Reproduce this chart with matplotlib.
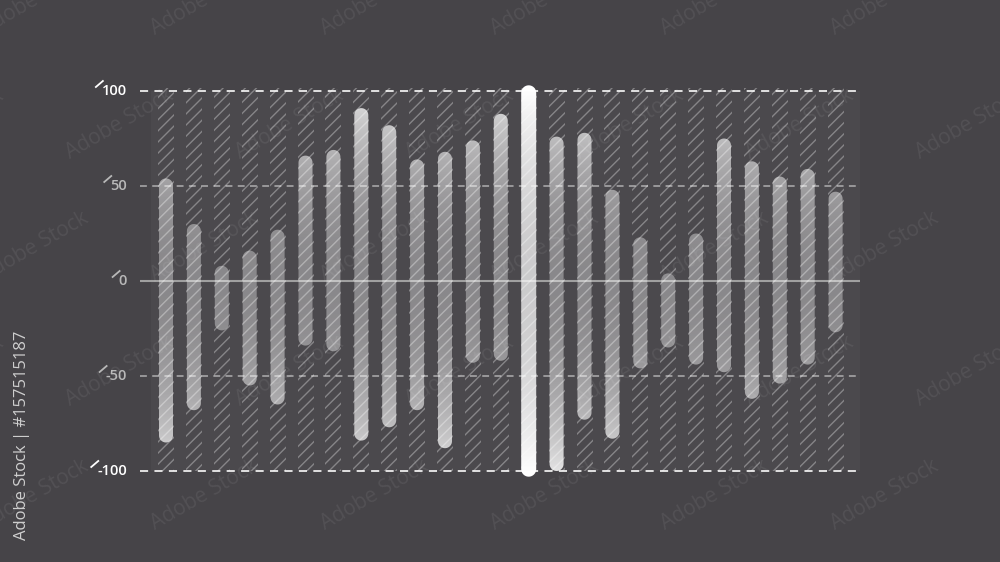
import numpy as np
import matplotlib.pyplot as plt
from matplotlib.path import Path
from matplotlib.patches import PathPatch, Rectangle
from matplotlib.transforms import ScaledTranslation

# bar extents (value at top end, value at bottom end)
tops = [54, 30, 8, 16, 27, 66, 69, 91, 82, 64, 68, 74, 88, 103, 76, 78, 48, 23, 4, 25, 75, 63, 55, 59, 47]
bottoms = [-85, -68, -26, -55, -65, -34, -37, -84, -77, -68, -88, -43, -42, -103, -100, -73, -83, -46, -35, -44, -48, -62, -54, -44, -27]
highlight = 13  # the bright bar

yticks = [100, 50, 0, -50, -100]
ylabels = ['100', '50', '0', '-50', '-100']

BG = '#464448'
AREA = '#4b494d'

fig = plt.figure(figsize=(10, 5.62), dpi=100, facecolor=BG)
n = len(tops)
ax = fig.add_axes([0.140, 1 - 478.6 / 562, 0.720, (478.6 - 83.4) / 562])
ax.set_xlim(-0.932, (860 - 166) / 27.9)
ax.set_ylim(-104, 104)
ax.set_facecolor(BG)
for s in ax.spines.values():
    s.set_visible(False)
ax.set_xticks([])
ax.set_yticks([])

# slightly lighter plot area
ax.add_patch(Rectangle((-0.55, -100), (860 - 166) / 27.9 + 0.55, 200,
                       facecolor=AREA, edgecolor='none', zorder=0))

# grid lines
for v in [100, -100]:
    ax.axhline(v, color='white', lw=1.3, ls=(0, (4.5, 3.5)), alpha=0.9, zorder=1)
for v in [50, -50]:
    ax.axhline(v, color='#d0d0d0', lw=1.1, ls=(0, (4.5, 3.5)), alpha=0.75, zorder=1)
ax.axhline(0, color='#a0a0a0', lw=1.5, zorder=1)

xs = np.arange(n)

# pixel scale of data units
p0 = ax.transData.transform((0, 0))
p1 = ax.transData.transform((1, 1))
sx, sy = p1 - p0


def bar_path(x, lo, hi, rpx):
    rx = rpx / sx
    ry = rpx / sy
    t1 = np.linspace(0, np.pi, 20)
    t2 = np.linspace(np.pi, 2 * np.pi, 20)
    top = np.column_stack([x + rx * np.cos(t1), hi - ry + ry * np.sin(t1)])
    bot = np.column_stack([x + rx * np.cos(t2), lo + ry + ry * np.sin(t2)])
    v = np.vstack([top, bot, top[:1]])
    c = [Path.MOVETO] + [Path.LINETO] * (len(v) - 2) + [Path.CLOSEPOLY]
    return v, c


def gradient_image(alpha_fn, zorder):
    yy = np.linspace(-105, 105, 400)
    img = np.ones((len(yy), 1, 4))
    img[:, 0, 3] = alpha_fn(yy)
    return ax.imshow(img, extent=(-1, n + 1, -105, 105), origin='lower',
                     aspect='auto', interpolation='bilinear', zorder=zorder)


verts, codes = [], []
for i in range(n):
    if i == highlight:
        continue
    v, c = bar_path(xs[i], bottoms[i], tops[i], 7)
    verts.append(v)
    codes += c
clip = PathPatch(Path(np.vstack(verts), codes), transform=ax.transData,
                 facecolor='none', edgecolor='none')
ax.add_patch(clip)
im = gradient_image(lambda y: 0.35 + 0.5 * (np.abs(y) / 100) ** 2, 2)
im.set_clip_path(clip)

v, c = bar_path(xs[highlight], bottoms[highlight], tops[highlight], 7.5)
clip2 = PathPatch(Path(v, c), transform=ax.transData, facecolor='none', edgecolor='none')
ax.add_patch(clip2)
im2 = gradient_image(lambda y: 0.72 + 0.28 * (np.abs(y) / 100) ** 2, 2)
im2.set_clip_path(clip2)
ax.set_xlim(-0.932, (860 - 166) / 27.9)
ax.set_ylim(-104, 104)

# hatched columns behind/over the bars
plt.rcParams['hatch.linewidth'] = 1.0
ax.bar(xs, 201.5, bottom=-100, width=16 / sx, facecolor='none',
       edgecolor=(1, 1, 1, 0.33), linewidth=0, hatch='///', zorder=3)

# y labels with small slash marks
labels = []
lab_tr = ax.get_yaxis_transform() + ScaledTranslation(-0.13, 0, fig.dpi_scale_trans)
for v, lab in zip(yticks, ylabels):
    strong = abs(v) == 100
    t = ax.text(0, v, lab, transform=lab_tr, ha='right', va='center',
                fontsize=10.5, family='Open Sans', weight='semibold',
                color='white' if strong else '#b8b8b8')
    labels.append((t, strong))

fig.canvas.draw()
r = fig.canvas.get_renderer()
for t, strong in labels:
    bb = t.get_window_extent(r)
    x0, y1 = bb.x0, bb.y1 - 3
    fig.add_artist(plt.Line2D([x0 - 6, x0 + 1], [y1, y1 + 6], transform=None,
                              color='white' if strong else '#b8b8b8', lw=1.3))

# watermark
fig.text(0.022, 0.225, 'Adobe Stock | #157515187', rotation=90, ha='center', va='center',
         fontsize=12, family='Open Sans', color='#cfcfcf')
for row, yy in enumerate(np.arange(-0.1, 1.2, 0.22)):
    for xx in np.arange(-0.05, 1.1, 0.17):
        off = 0.085 if row % 2 else 0
        fig.text(xx + off, yy, 'Adobe Stock', rotation=30, ha='center', va='center',
                 fontsize=15, family='Open Sans', color='white', alpha=0.07)

fig.savefig('out.png', dpi=100, facecolor=BG)
